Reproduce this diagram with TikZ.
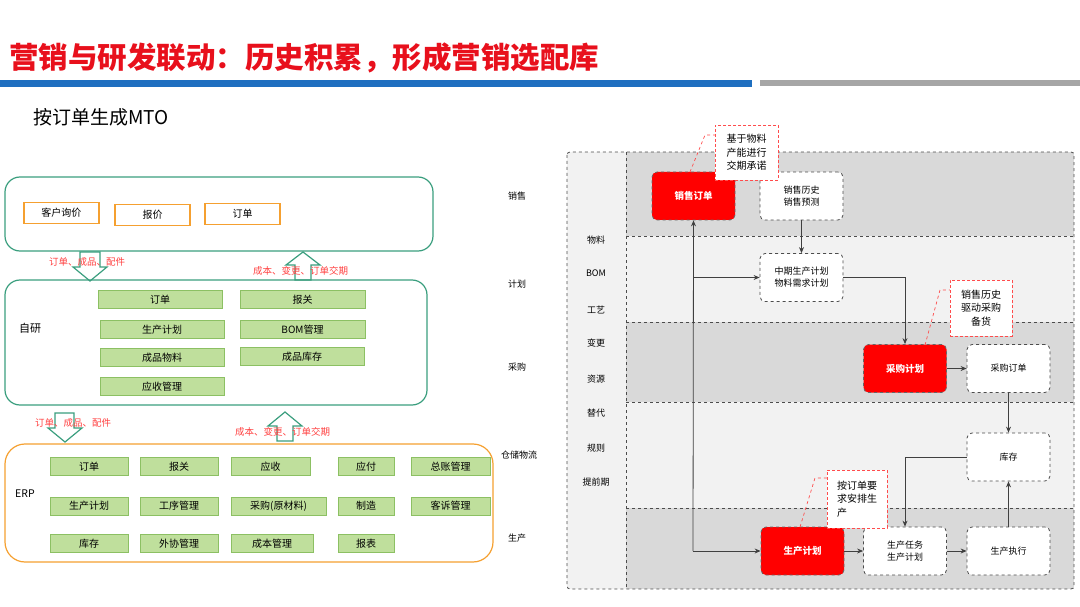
\documentclass[tikz,border=0pt]{standalone}
\usepackage{fontspec}
\setmainfont{Noto Sans CJK SC}
\usetikzlibrary{arrows.meta}
\definecolor{teal1}{HTML}{3A9E7E}
\definecolor{org}{HTML}{F5A030}
\definecolor{gfill}{HTML}{BFDF9C}
\definecolor{gline}{HTML}{8CC063}
\definecolor{tred}{HTML}{E8101C}
\definecolor{tblue}{HTML}{1F6FC0}
\definecolor{lane}{HTML}{D9D9D9}
\definecolor{lanel}{HTML}{F2F2F2}
\begin{document}
\begin{tikzpicture}[x=1pt,y=-1pt,
 gbox/.style={draw=gline,fill=gfill,line width=1pt,minimum height=18pt,inner sep=0pt,font=\fontsize{10}{10}\selectfont},
 obox/.style={draw=org,fill=white,line width=1.2pt,minimum width=75pt,minimum height=21pt,inner sep=0pt,font=\fontsize{10}{10}\selectfont},
 big/.style={draw=teal1,line width=1.2pt,rounded corners=15pt},
 rlab/.style={text=red!75,font=\fontsize{9.5}{10}\selectfont,inner sep=0pt,anchor=west},
 blk/.style={draw=teal1,fill=white,line width=1.2pt},
 wn/.style={draw=black!70,dashed,fill=white,rounded corners=5pt,line width=0.8pt,minimum width=83pt,minimum height=48pt,align=center,inner sep=0pt,font=\fontsize{9}{12}\selectfont},
 rn/.style={wn,fill=red,draw=black!60,text=white,font=\fontsize{9.5}{12}\selectfont\bfseries},
 call/.style={draw=red!70,densely dashed,fill=white,align=center,inner sep=0pt,font=\fontsize{10}{13.5}\selectfont},
 cl/.style={red!70,dashed,line width=0.7pt},
 ar/.style={-{Stealth[length=6pt,width=5pt]},line width=0.8pt,black!75},
 side/.style={font=\fontsize{9}{10}\selectfont,inner sep=0pt},
]
\useasboundingbox (0,0) rectangle (1080,607);
% title
\node[anchor=west,text=tred,font=\fontsize{29.5}{30}\selectfont\bfseries,inner sep=0pt] (title) at (9,58) {营销与研发联动：历史积累，形成营销选配库};
\fill[tblue] (0,80) rectangle (752,87);
\fill[black!35] (760,80) rectangle (1080,86);
\node[anchor=west,font=\fontsize{19}{19}\selectfont,inner sep=0pt] (mto) at (33,117) {按订单生成MTO};
% left boxes
\draw[big] (5,177) rectangle (433,251);
\node[obox] (q1) at (61.5,213) {客户询价};
\node[obox] (q2) at (152.5,215) {报价};
\node[obox] (q3) at (242.5,214) {订单};
\draw[blk] (80,252)--(100,252)--(100,267)--(107,267)--(90,281)--(73,267)--(80,267)--cycle;
\draw[blk] (295,280)--(311,280)--(311,265)--(320,265)--(303,252)--(286,265)--(295,265)--cycle;
\node[rlab] (l1) at (49,262) {订单、成品、配件};
\node[rlab] (l2) at (253,271) {成本、变更、订单交期};
\draw[big] (5,280) rectangle (427,405);
\node[anchor=west,font=\fontsize{11}{11}\selectfont,inner sep=0pt] (zy) at (19,328) {自研};
\node[gbox,minimum width=124pt] (z1) at (160,299.5) {订单};
\node[gbox,minimum width=125pt] (z2) at (302.5,299.5) {报关};
\node[gbox,minimum width=124pt] (z3) at (162,329.5) {生产计划};
\node[gbox,minimum width=125pt] (z4) at (302.5,329.5) {BOM管理};
\node[gbox,minimum width=124pt] (z5) at (162,357.5) {成品物料};
\node[gbox,minimum width=124pt] (z6) at (302,356.5) {成品库存};
\node[gbox,minimum width=124pt] (z7) at (162,386.5) {应收管理};
\draw[blk] (55,413)--(74,413)--(74,428)--(82,428)--(65,442)--(48,428)--(55,428)--cycle;
\draw[blk] (277,441)--(293,441)--(293,426)--(302,426)--(285,412)--(268,426)--(277,426)--cycle;
\node[rlab] (l3) at (35,423) {订单、成品、配件};
\node[rlab] (l4) at (235,432) {成本、变更、订单交期};
\draw[draw=org,line width=1.2pt,rounded corners=20pt] (5,444) rectangle (493,562);
\node[anchor=west,font=\fontsize{10.5}{11}\selectfont,inner sep=0pt] (erp) at (15,494) {ERP};
\foreach \n/\t/\x/\w/\y in {e1/订单/89/78/466.5,e2/报关/179/78/466.5,e3/应收/270.5/79/466.5,e4/应付/366/56/466.5,e5/总账管理/450.5/79/466.5,
 e6/生产计划/89/78/506,e7/工序管理/179/78/506,e8/采购(原材料)/278.5/95/506,e9/制造/366/56/506,e10/客诉管理/450.5/79/506,
 e11/库存/89/78/543.5,e12/外协管理/179/78/543.5,e13/成本管理/272/82/543.5,e14/报表/366/56/543.5}
 {\node[gbox,minimum width=\w pt] (\n) at (\x,\y) {\t};}
% side labels
\node[side] (s1) at (517,196) {销售};
\node[side] (s2) at (517,284) {计划};
\node[side] (s3) at (517,367) {采购};
\node[side] (s4) at (519,455) {仓储物流};
\node[side] (s5) at (517,538) {生产};
% right diagram lanes
\fill[lanel] (567,152) rectangle (1074,589);
\fill[lane] (626,152) rectangle (1074,236);
\fill[lane] (626,322) rectangle (1074,402);
\fill[lane] (626,508) rectangle (1074,589);
\draw[black!70,dashed,line width=0.8pt,rounded corners=3pt] (567,152) rectangle (1074,589);
\draw[black!70,dashed,line width=0.8pt] (626,152)--(626,589);
\draw[black!70,dashed,line width=0.8pt] (626,236)--(1074,236) (626,322)--(1074,322) (626,402)--(1074,402) (626,508)--(1074,508);
\foreach \t/\y [count=\i] in {物料/240,BOM/273,工艺/310,变更/343,资源/379,替代/413,规则/448,提前期/482}
 \node[side] (c\i) at (596,\y) {\t};
% nodes
\node[rn] (xsdd) at (693.5,196) {销售订单};
\node[wn] (xsls) at (801.5,196) {销售历史\\销售预测};
\node[wn] (zq) at (801.5,277.5) {中期生产计划\\物料需求计划};
\node[rn] (cgjh) at (905,368.5) {采购计划};
\node[wn] (cgdd) at (1008.5,368.5) {采购订单};
\node[wn] (kc) at (1008.5,457) {库存};
\node[rn] (scjh) at (802.5,551) {生产计划};
\node[wn] (scrw) at (905,551) {生产任务\\生产计划};
\node[wn] (sczx) at (1008.5,551) {生产执行};
% callouts
\node[call,minimum width=63pt,minimum height=55pt] (k1) at (746.5,152.5) {基于物料\\产能进行\\交期承诺};
\node[call,minimum width=62pt,minimum height=56pt] (k2) at (981,308) {销售历史\\驱动采购\\备货};
\node[call,minimum width=60pt,minimum height=58pt,align=left] (k3) at (857,499) {按订单要\\求安排生\\产};
\draw[cl] (690,172)--(705,135)--(k1.west|-0,135);
\draw[cl] (925,345)--(940,290)--(k2.west|-0,290);
\draw[cl] (800,527)--(815,478)--(k3.west|-0,478);
% connectors
\coordinate (j) at (693,551);
\draw[ar] (j)--(xsdd.south);
\draw[ar] (693,277.5)--(zq.west);
\draw[ar] (j)--(scjh.west);
\draw[ar] (xsls)--(zq);
\draw[ar] (zq.east)-|(cgjh.north);
\draw[ar] (cgjh)--(cgdd);
\draw[ar] (cgdd)--(kc);
\draw[ar] (kc.west)-|(scrw.north);
\draw[ar] (scjh)--(scrw);
\draw[ar] (scrw)--(sczx);
\draw[ar] (sczx)--(kc);
\end{tikzpicture}
\end{document}
